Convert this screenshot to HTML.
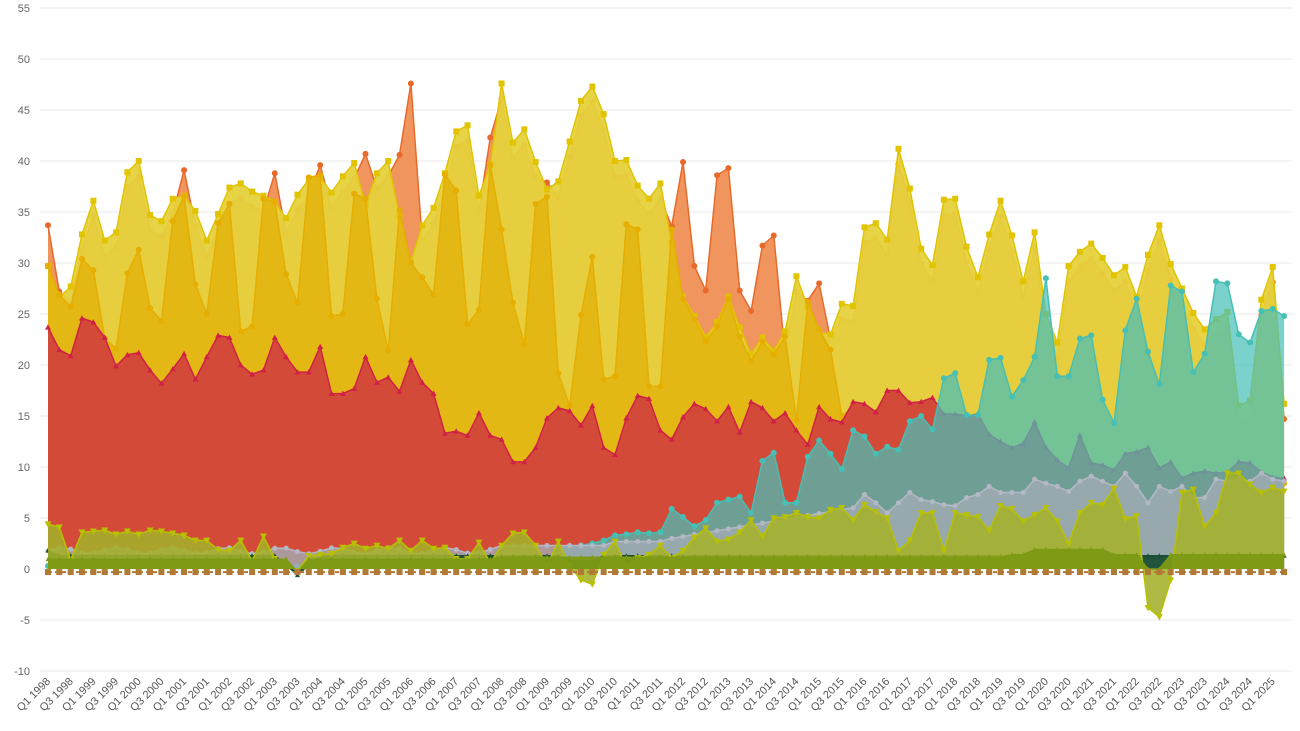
<!DOCTYPE html>
<html><head><meta charset="utf-8"><style>
html,body{margin:0;padding:0;background:#fff;}
svg{display:block;font-family:"Liberation Sans",sans-serif;}
.yl{font-size:11px;fill:#666;text-anchor:end}
.xl{font-size:11px;fill:#555;text-anchor:end}
</style></head><body>
<svg id="c" width="1300" height="731" viewBox="0 0 1300 731" xmlns="http://www.w3.org/2000/svg">
<g stroke="#e8e8e8" stroke-width="1">
<line x1="40" x2="1292" y1="8" y2="8"/><line x1="40" x2="1292" y1="59" y2="59"/><line x1="40" x2="1292" y1="110" y2="110"/><line x1="40" x2="1292" y1="161" y2="161"/><line x1="40" x2="1292" y1="212" y2="212"/><line x1="40" x2="1292" y1="263" y2="263"/><line x1="40" x2="1292" y1="314" y2="314"/><line x1="40" x2="1292" y1="365" y2="365"/><line x1="40" x2="1292" y1="416" y2="416"/><line x1="40" x2="1292" y1="467" y2="467"/><line x1="40" x2="1292" y1="518" y2="518"/><line x1="40" x2="1292" y1="569" y2="569"/><line x1="40" x2="1292" y1="620" y2="620"/><line x1="40" x2="1292" y1="671" y2="671"/>
</g>
<g class="yl">
<text x="30" y="12">55</text><text x="30" y="63">50</text><text x="30" y="114">45</text><text x="30" y="165">40</text><text x="30" y="216">35</text><text x="30" y="267">30</text><text x="30" y="318">25</text><text x="30" y="369">20</text><text x="30" y="420">15</text><text x="30" y="471">10</text><text x="30" y="522">5</text><text x="30" y="573">0</text><text x="30" y="624">-5</text><text x="30" y="675">-10</text>
</g>
<g id="series"></g>
<g class="xl">
<text transform="translate(51,682) rotate(-45)">Q1 1998</text>
<text transform="translate(73.7,682) rotate(-45)">Q3 1998</text>
<text transform="translate(96.4,682) rotate(-45)">Q1 1999</text>
<text transform="translate(119,682) rotate(-45)">Q3 1999</text>
<text transform="translate(141.7,682) rotate(-45)">Q1 2000</text>
<text transform="translate(164.4,682) rotate(-45)">Q3 2000</text>
<text transform="translate(187.1,682) rotate(-45)">Q1 2001</text>
<text transform="translate(209.8,682) rotate(-45)">Q3 2001</text>
<text transform="translate(232.4,682) rotate(-45)">Q1 2002</text>
<text transform="translate(255.1,682) rotate(-45)">Q3 2002</text>
<text transform="translate(277.8,682) rotate(-45)">Q1 2003</text>
<text transform="translate(300.5,682) rotate(-45)">Q3 2003</text>
<text transform="translate(323.2,682) rotate(-45)">Q1 2004</text>
<text transform="translate(345.8,682) rotate(-45)">Q3 2004</text>
<text transform="translate(368.5,682) rotate(-45)">Q1 2005</text>
<text transform="translate(391.2,682) rotate(-45)">Q3 2005</text>
<text transform="translate(413.9,682) rotate(-45)">Q1 2006</text>
<text transform="translate(436.6,682) rotate(-45)">Q3 2006</text>
<text transform="translate(459.2,682) rotate(-45)">Q1 2007</text>
<text transform="translate(481.9,682) rotate(-45)">Q3 2007</text>
<text transform="translate(504.6,682) rotate(-45)">Q1 2008</text>
<text transform="translate(527.3,682) rotate(-45)">Q3 2008</text>
<text transform="translate(550,682) rotate(-45)">Q1 2009</text>
<text transform="translate(572.6,682) rotate(-45)">Q3 2009</text>
<text transform="translate(595.3,682) rotate(-45)">Q1 2010</text>
<text transform="translate(618,682) rotate(-45)">Q3 2010</text>
<text transform="translate(640.7,682) rotate(-45)">Q1 2011</text>
<text transform="translate(663.4,682) rotate(-45)">Q3 2011</text>
<text transform="translate(686,682) rotate(-45)">Q1 2012</text>
<text transform="translate(708.7,682) rotate(-45)">Q3 2012</text>
<text transform="translate(731.4,682) rotate(-45)">Q1 2013</text>
<text transform="translate(754.1,682) rotate(-45)">Q3 2013</text>
<text transform="translate(776.8,682) rotate(-45)">Q1 2014</text>
<text transform="translate(799.4,682) rotate(-45)">Q3 2014</text>
<text transform="translate(822.1,682) rotate(-45)">Q1 2015</text>
<text transform="translate(844.8,682) rotate(-45)">Q3 2015</text>
<text transform="translate(867.5,682) rotate(-45)">Q1 2016</text>
<text transform="translate(890.2,682) rotate(-45)">Q3 2016</text>
<text transform="translate(912.8,682) rotate(-45)">Q1 2017</text>
<text transform="translate(935.5,682) rotate(-45)">Q3 2017</text>
<text transform="translate(958.2,682) rotate(-45)">Q1 2018</text>
<text transform="translate(980.9,682) rotate(-45)">Q3 2018</text>
<text transform="translate(1003.6,682) rotate(-45)">Q1 2019</text>
<text transform="translate(1026.2,682) rotate(-45)">Q3 2019</text>
<text transform="translate(1048.9,682) rotate(-45)">Q1 2020</text>
<text transform="translate(1071.6,682) rotate(-45)">Q3 2020</text>
<text transform="translate(1094.3,682) rotate(-45)">Q1 2021</text>
<text transform="translate(1117,682) rotate(-45)">Q3 2021</text>
<text transform="translate(1139.6,682) rotate(-45)">Q1 2022</text>
<text transform="translate(1162.3,682) rotate(-45)">Q3 2022</text>
<text transform="translate(1185,682) rotate(-45)">Q1 2023</text>
<text transform="translate(1207.7,682) rotate(-45)">Q3 2023</text>
<text transform="translate(1230.4,682) rotate(-45)">Q1 2024</text>
<text transform="translate(1253,682) rotate(-45)">Q3 2024</text>
<text transform="translate(1275.7,682) rotate(-45)">Q1 2025</text>
</g>
</svg>
<script>
(function(){
var N=110;
function X(i){return 48+i*11.34;}
function Y(v){return 569-v*10.2;}
var yellow=[29.7,26.6,27.7,32.8,36.1,32.2,33,38.9,40,34.7,34.1,36.3,36.6,35.1,32.2,34.8,37.4,37.8,37,36.6,36,34.4,36.7,38.2,38.4,36.9,38.5,39.8,35.7,38.8,40,34.6,30.1,33.7,35.4,38.8,
42.9,43.5,36.6,39.6,47.6,41.8,43.1,39.9,37.2,38,41.9,45.9,47.3,44.6,40,40.1,37.6,36.3,37.8,32,26.7,24.8,22.7,24.2,26.7,23.7,21.1,22.7,21.4,23.3,28.7,25.7,23.2,23,26,25.8,
33.5,33.9,32.3,41.2,37.3,31.4,29.8,36.2,36.3,31.6,28.6,32.8,36.1,32.7,28.2,33,25,22.2,29.7,31.1,31.9,30.5,28.8,29.6,26.7,30.8,33.7,29.9,27.5,25.1,23.5,24.5,25.2,16,16.5,26.4,29.6,16.2];
var red=[23.7,21.5,20.9,24.6,24.2,22.7,19.9,21,21.2,19.5,18.2,19.6,21.1,18.6,20.8,22.9,22.7,20,19.1,19.5,22.7,20.8,19.3,19.3,21.8,17.2,17.2,17.7,20.8,18.3,18.8,17.4,20.5,18.3,17.2,13.3,
13.5,13.1,15.3,13.1,12.7,10.5,10.5,11.9,14.8,15.8,15.5,14.1,16,11.9,11.2,14.8,17,16.7,13.6,12.7,14.9,16.2,15.7,14.5,15.9,13.4,16.4,15.8,14.5,15.3,13.6,12.2,15.9,14.7,14.4,16.4,
16.2,15.4,17.5,17.5,16.3,16.4,16.8,15.2,15.2,15,15.2,
13.2,12.5,11.9,12.3,14.4,11.9,10.7,9.9,13.1,10.4,10.2,9.7,11.3,11.5,11.9,9.9,10.5,8.9,9.4,9.6,9.4,9.5,10.5,10.4,9.5,9,8.9];
var goldA=[29.7,26.9,25.7,30.4,29.3,22.6,21.6,29,31.3,25.6,24.3,34.1,36.6,27.9,25,33.9,35.8,23.3,23.8,36.3,36,28.9,26.1,38.4,38.6,24.8,25,36.8,36.3,26.5,21.4,35.2,30,28.6,26.9,38.7,37.1,24,25.4,39.6,33.3,26.1,22,35.8,36.5,19.2,16,24.9,30.6,18.6,18.9,33.8,33.3,17.9,17.9,33.3,26.5,24.5,22.3,23.8,26.5,22.8,20.4,22.3,21,22.8,14.6,26.2,23.5,21.5,15];
var gold=[];for(var i=0;i<N;i++)gold.push(i<goldA.length?goldA[i]:red[i]-0.5);
var oD={0:33.7,1:27.2,12:39.1,20:38.8,24:39.6,28:40.7,31:40.6,32:47.6,39:42.3,44:37.9,55:33.6,56:39.9,57:29.7,58:27.3,59:38.6,60:39.3,61:27.3,62:25.3,63:31.7,64:32.7,65:21,67:26.3,68:28,69:22.5};
var orange=[];for(i=0;i<N;i++)orange.push(oD[i]!==undefined?oD[i]:Math.max(yellow[i]-1.5,red[i]));
var teal=[];for(i=0;i<50;i++)teal.push(i<45?0.3:[2,2.2,2.3,2.5,2.8][i-45]);
teal=teal.concat([3.3,3.4,3.6,3.5,3.6,5.9,5.1,4.2,4.8,6.5,6.8,7.1,5.5,10.6,11.4,6.5,6.5,11,12.6,11.3,9.8,13.6,
13,11.3,12,11.7,14.5,15,13.7,18.7,19.2,15.1,15.1,20.5,20.7,16.9,18.5,20.8,28.5,18.9,18.9,22.6,22.9,16.6,14.3,23.4,26.5,21.3,18.1,27.8,27.2,19.3,21.1,28.2,28,23,22.2,25.3,25.5,24.8]);
var grey=[];for(i=0;i<72;i++){var g;if(i<40)g=1.8+0.3*Math.sin(i*1.3);else if(i<50)g=2.3;else if(i<55)g=2.7;else g=3+(i-55)*3/16;grey.push(g);}
grey=grey.concat([7.3,6.5,5.5,6.5,7.5,6.8,6.6,6.3,6.2,7,7.3,8.1,7.5,7.5,7.5,8.8,8.4,8.1,7.6,8.6,9.1,8.6,8.1,9.4,8.1,6.5,8.1,7.6,8.1,7,7,8.8,8.6,8.8,8.6,9.4,8.8,8.6]);
var olive=[4.4,4.1,0.9,3.6,3.7,3.8,3.4,3.7,3.4,3.8,3.7,3.5,3.3,2.8,2.8,1.9,1.8,2.8,0.8,3.2,1,0.5,-0.2,1.3,1.4,1.5,2.1,2.5,2,2.3,2,2.8,1.8,2.8,2,2.1,
1,1,2.6,0.6,2.3,3.5,3.6,2.3,0.4,2.7,0.3,-1.1,-1.5,1.4,2.7,0.2,1.1,1.4,2.3,1.1,1.8,3.1,4,2.7,2.9,3.6,4.8,3.2,5,5.1,5.5,5.1,5,5.8,6,4.8,
6.3,5.6,5,1.8,2.8,5.5,5.5,1.8,5.5,5.3,5.1,3.8,6.2,5.9,4.7,5.3,6,4.7,2.5,5.5,6.5,6.3,7.9,4.9,5.2,-3.8,-4.7,-1.1,7.5,7.8,4.2,5.5,9.4,9.4,8.3,7.5,8,7.6];
var dgreen=[],dolive=[],brown=[];
for(i=0;i<N;i++){
 var d=1.3;if(i==0)d=1.8;if(i==22)d=-0.6;if(i==21||i==23)d=0.4;if(i>=46&&i<=48)d=0.8;
 dgreen.push(d);
 var o=i<40?0.95:(i<85?1.15:1.4);if(i>=87&&i<=93)o=1.9;if(i==97||i==98)o=0;if(i==22)o=-0.3;
 dolive.push(o);brown.push(-0.3);
}
var S=document.getElementById('series');
var ns='http://www.w3.org/2000/svg';
function el(t,a){var e=document.createElementNS(ns,t);for(var k in a)e.setAttribute(k,a[k]);S.appendChild(e);return e;}
function area(data,fill,fo,stroke,marker,msize){
 var p='M'+X(0)+','+Y(0);
 for(var i=0;i<N;i++)p+='L'+X(i).toFixed(1)+','+Y(data[i]).toFixed(1);
 p+='L'+X(N-1)+','+Y(0)+'Z';
 el('path',{d:p,fill:fill,'fill-opacity':fo,stroke:'none'});
 var l='M';for(i=0;i<N;i++)l+=(i?'L':'')+X(i).toFixed(1)+','+Y(data[i]).toFixed(1);
 el('path',{d:l,fill:'none',stroke:stroke,'stroke-width':1.5,'stroke-linejoin':'round'});
 for(i=0;i<N;i++){var x=X(i),y=Y(data[i]),s=msize||3;
  if(marker=='c')el('circle',{cx:x,cy:y,r:s,fill:stroke});
  else if(marker=='s')el('rect',{x:x-s,y:y-s,width:2*s,height:2*s,fill:stroke});
  else if(marker=='t')el('path',{d:'M'+x+','+(y-s)+'L'+(x+s)+','+(y+s*0.8)+'L'+(x-s)+','+(y+s*0.8)+'Z',fill:stroke});
  else if(marker=='v')el('path',{d:'M'+x+','+(y+s)+'L'+(x+s)+','+(y-s*0.8)+'L'+(x-s)+','+(y-s*0.8)+'Z',fill:stroke});
 }
}
area(orange,'#ee8a4c',0.9,'#e8692a','c',3);
area(yellow,'#e6d13c',0.95,'#e2c300','s',3);
area(gold,'#e4b612',0.95,'#e5ae00','c',3);
area(red,'#d3463a',0.97,'#cf2146','t',3);
area(teal,'#48bfb8',0.72,'#46bfb5','c',3);
area(grey,'#a3abb4',0.8,'#b3b8c4','c',2.5);
area(dgreen,'#1b4e36',0.95,'#1b4e36','t',2.5);
area(olive,'#a4b12a',0.88,'#b8c100','v',3.5);
area(dolive,'#7d9a14',0.95,'#7d9a14','t',2.5);
var b='M';for(i=0;i<N;i++)b+=(i?'L':'')+X(i).toFixed(1)+','+Y(-0.3).toFixed(1);
el('path',{d:b,fill:'none',stroke:'#b07a34','stroke-width':2,'stroke-dasharray':'4,3'});
for(i=0;i<N;i++)el('rect',{x:X(i)-3,y:Y(-0.3)-3,width:6,height:6,fill:'#b07a34'});
})();
</script>
</body></html>
